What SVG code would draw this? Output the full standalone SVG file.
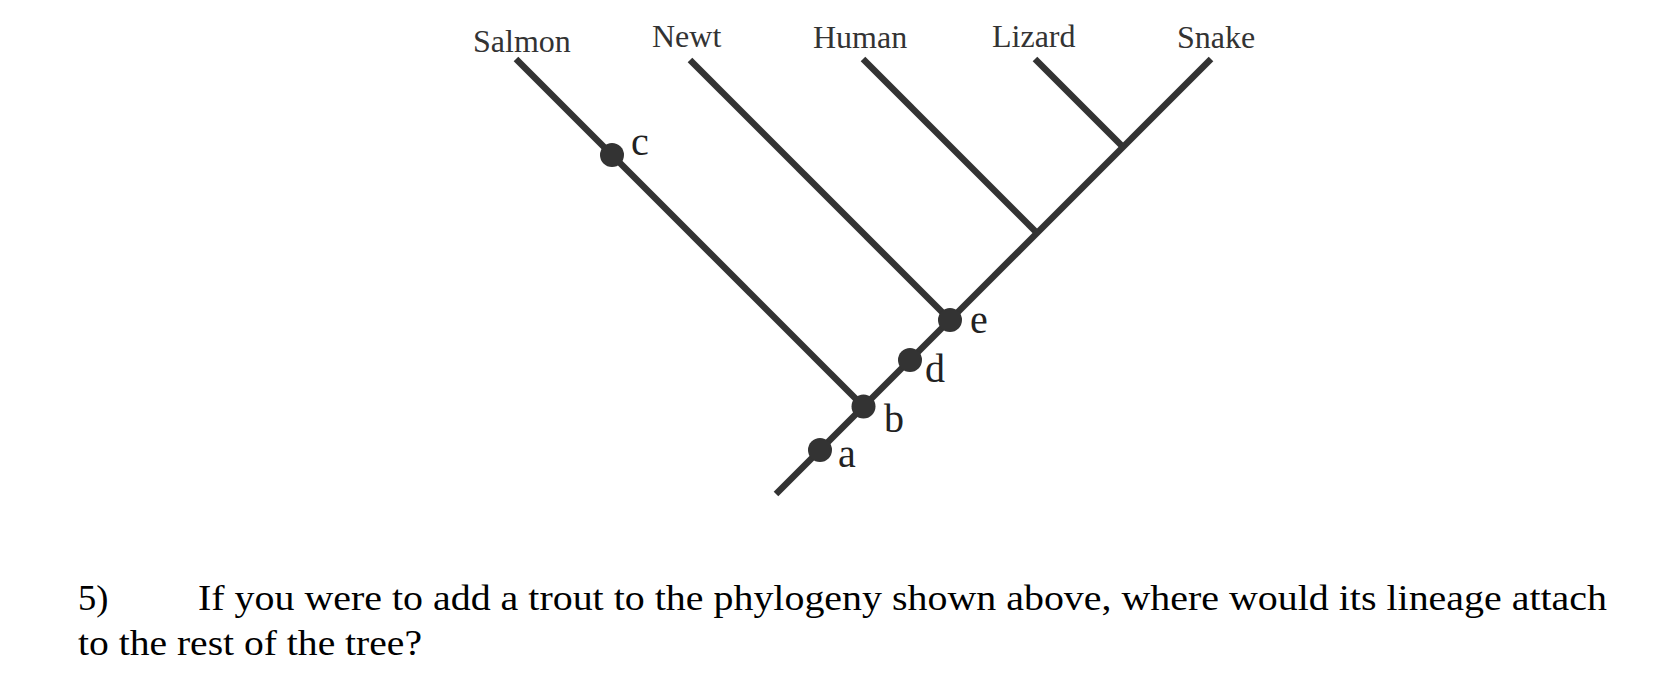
<svg xmlns="http://www.w3.org/2000/svg" width="1656" height="698" viewBox="0 0 1656 698">
<style>
.branch{stroke:#333;stroke-width:6.5;fill:none;stroke-linecap:butt}
.dot{fill:#333}
.sp{font-family:"Liberation Serif","Times New Roman",serif;font-size:32px;fill:#333}
.lbl{font-family:"Liberation Serif","Times New Roman",serif;font-size:40px;fill:#222}
.q{font-family:"Liberation Serif","Times New Roman",serif;font-size:36.5px;fill:#000}
</style>
<rect width="1656" height="698" fill="#fff"/>
<g id="connectors">
<line class="branch" x1="776" y1="494" x2="1211" y2="59"/>
<line class="branch" x1="516" y1="59" x2="864" y2="407"/>
<line class="branch" x1="690" y1="60" x2="951" y2="321"/>
<line class="branch" x1="863" y1="59" x2="1038" y2="234"/>
<line class="branch" x1="1035" y1="59" x2="1124" y2="148"/>
</g>
<g id="node-salmon"><text class="sp" x="473" y="52">Salmon</text></g>
<g id="node-newt"><text class="sp" x="652" y="47">Newt</text></g>
<g id="node-human"><text class="sp" x="813" y="48">Human</text></g>
<g id="node-lizard"><text class="sp" x="992" y="47">Lizard</text></g>
<g id="node-snake"><text class="sp" x="1177" y="48">Snake</text></g>
<g id="node-a"><circle class="dot" cx="820" cy="450" r="12"/><text class="lbl" x="838" y="467">a</text></g>
<g id="node-b"><circle class="dot" cx="863.5" cy="406.5" r="12"/><text class="lbl" x="884" y="432">b</text></g>
<g id="node-c"><circle class="dot" cx="612" cy="155" r="12"/><text class="lbl" x="631" y="155">c</text></g>
<g id="node-d"><circle class="dot" cx="910" cy="360" r="12"/><text class="lbl" x="925" y="382">d</text></g>
<g id="node-e"><circle class="dot" cx="950" cy="320" r="12"/><text class="lbl" x="970" y="333">e</text></g>
<g id="question">
<text class="q" x="78" y="610">5)</text>
<text class="q" x="198" y="610" textLength="1409" lengthAdjust="spacingAndGlyphs">If you were to add a trout to the phylogeny shown above, where would its lineage attach</text>
<text class="q" x="78" y="655" textLength="344" lengthAdjust="spacingAndGlyphs">to the rest of the tree?</text>
</g>
</svg>
